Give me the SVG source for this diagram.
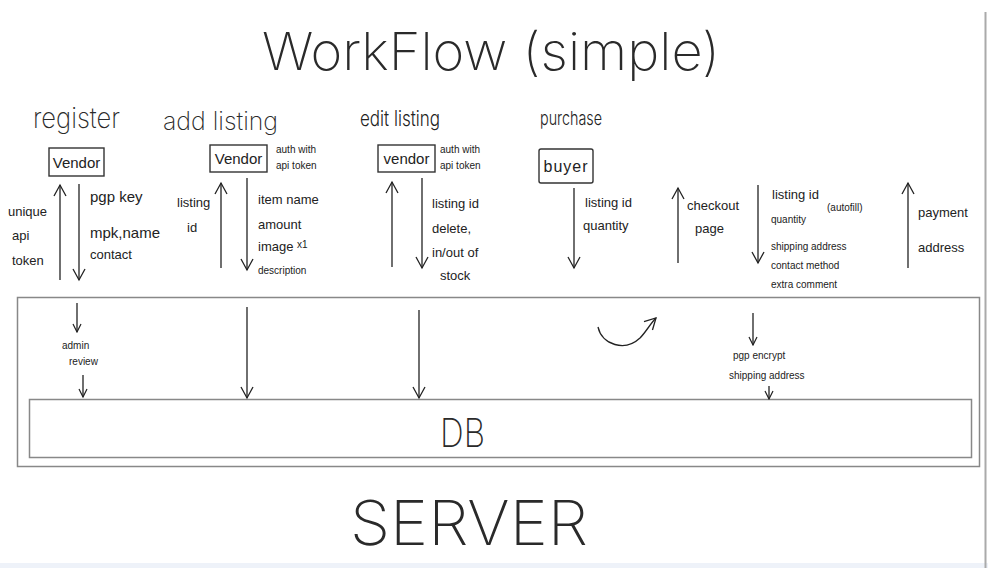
<svg xmlns="http://www.w3.org/2000/svg" width="988" height="568" viewBox="0 0 988 568">
<defs>
<style>
text{font-family:"Liberation Sans","DejaVu Sans",sans-serif;fill:#222;}
.t{font-family:Inter,"DejaVu Sans","Liberation Sans",sans-serif;font-weight:200;fill:#2a2a2a;}
.h{font-weight:300;fill:#222;}
.s{font-size:13px;}
.xs{font-size:10px;}
.m{font-size:15px;}
.box{fill:none;stroke:#333;stroke-width:1.4;}
.frame{fill:none;stroke:#888;stroke-width:1.5;}
.c{fill:none;stroke:#222;stroke-width:1.3;}
</style>
<marker id="ah" markerWidth="14" markerHeight="14" refX="12" refY="7" orient="auto" markerUnits="userSpaceOnUse">
<path d="M1,1 L12,7 L1,13" fill="none" stroke="#222" stroke-width="1.3"/>
</marker>
<marker id="ahs" markerWidth="10" markerHeight="10" refX="9" refY="5" orient="auto" markerUnits="userSpaceOnUse">
<path d="M1,1 L9,5 L1,9" fill="none" stroke="#222" stroke-width="1.2"/>
</marker>
</defs>
<rect width="988" height="568" fill="#ffffff"/>
<rect x="0" y="563" width="988" height="5" fill="#eef2f9"/>
<line x1="985.5" y1="12" x2="985.5" y2="568" stroke="#aaa" stroke-width="2"/>

<g id="title">
<text x="262" y="70" font-size="52" class="t" textLength="458" lengthAdjust="spacingAndGlyphs">WorkFlow (simple)</text>
</g>

<g id="server">
<rect x="17.5" y="297.5" width="962" height="169" class="frame"/>
<text x="350" y="545" font-size="62" class="t" textLength="238" lengthAdjust="spacingAndGlyphs">SERVER</text>
</g>
<g id="db">
<rect x="29.5" y="399.5" width="942" height="58" class="frame"/>
<text x="440" y="447" font-size="40" class="t" textLength="45" lengthAdjust="spacingAndGlyphs">DB</text>
</g>

<g id="register">
<text x="33" y="128" font-size="28" class="t" textLength="87" lengthAdjust="spacingAndGlyphs">register</text>
</g>
<g id="vendor-register">
<rect x="49" y="148" width="55" height="28" class="box"/>
<text x="76.5" y="168" font-size="15" text-anchor="middle">Vendor</text>
</g>
<g id="add-listing">
<text x="163" y="130" font-size="25" class="t" textLength="115" lengthAdjust="spacingAndGlyphs">add listing</text>
</g>
<g id="vendor-add">
<rect x="210" y="145" width="57" height="27" class="box"/>
<text x="238.5" y="164" font-size="15" text-anchor="middle">Vendor</text>
<text x="276" y="153" class="xs">auth with</text>
<text x="276" y="169" class="xs">api token</text>
</g>
<g id="edit-listing">
<text x="360" y="126" font-size="21" class="t h" textLength="80" lengthAdjust="spacingAndGlyphs">edit listing</text>
</g>
<g id="vendor-edit">
<rect x="378" y="145" width="57" height="27" class="box"/>
<text x="406.5" y="164" font-size="15" text-anchor="middle">vendor</text>
<text x="440" y="153" class="xs">auth with</text>
<text x="440" y="169" class="xs">api token</text>
</g>
<g id="purchase">
<text x="540" y="125" font-size="19" class="t h" textLength="62" lengthAdjust="spacingAndGlyphs">purchase</text>
</g>
<g id="buyer">
<rect x="539" y="149" width="54" height="34" rx="2" class="box"/>
<text x="566" y="172" font-size="16" text-anchor="middle" letter-spacing="1">buyer</text>
</g>

<g id="connectors">
<line x1="60" y1="280" x2="60" y2="185" class="c" marker-end="url(#ah)"/>
<line x1="79" y1="184" x2="79" y2="280" class="c" marker-end="url(#ah)"/>
<line x1="221" y1="268" x2="221" y2="183" class="c" marker-end="url(#ah)"/>
<line x1="247" y1="178" x2="247" y2="270" class="c" marker-end="url(#ah)"/>
<line x1="392" y1="267" x2="392" y2="182" class="c" marker-end="url(#ah)"/>
<line x1="422" y1="178" x2="422" y2="268" class="c" marker-end="url(#ah)"/>
<line x1="574" y1="188" x2="574" y2="268" class="c" marker-end="url(#ah)"/>
<line x1="678" y1="263" x2="678" y2="188" class="c" marker-end="url(#ah)"/>
<line x1="758" y1="185" x2="758" y2="263" class="c" marker-end="url(#ah)"/>
<line x1="908" y1="268" x2="908" y2="183" class="c" marker-end="url(#ah)"/>
<line x1="77" y1="303" x2="77" y2="332" class="c" marker-end="url(#ahs)"/>
<line x1="83" y1="375" x2="83" y2="397" class="c" marker-end="url(#ahs)"/>
<line x1="247" y1="307" x2="247" y2="398" class="c" marker-end="url(#ah)"/>
<line x1="419" y1="310" x2="419" y2="398" class="c" marker-end="url(#ah)"/>
<path d="M598,327 C602,345 625,352 640,338 C646,332 650,324 656,318" class="c" marker-end="url(#ah)"/>
<line x1="753" y1="313" x2="753" y2="345" class="c" marker-end="url(#ahs)"/>
<line x1="769" y1="386" x2="769" y2="399" class="c" marker-end="url(#ahs)"/>
</g>

<g id="labels">
<text x="8" y="216" class="s">unique</text>
<text x="12" y="240" class="s">api</text>
<text x="12" y="265" class="s">token</text>
<text x="90" y="202" class="m">pgp key</text>
<text x="90" y="238" class="m">mpk,name</text>
<text x="90" y="259" class="s">contact</text>

<text x="177" y="207" class="s">listing</text>
<text x="187" y="232" class="s">id</text>
<text x="258" y="204" class="s">item name</text>
<text x="258" y="229" class="s">amount</text>
<text x="258" y="251" class="s">image <tspan font-size="10" dy="-3">x1</tspan></text>
<text x="258" y="274" class="xs">description</text>

<text x="432" y="208" class="s">listing id</text>
<text x="432" y="233" class="s">delete,</text>
<text x="432" y="257" class="s">in/out of</text>
<text x="440" y="280" class="s">stock</text>

<text x="585" y="207" class="s">listing id</text>
<text x="583" y="230" class="s">quantity</text>

<text x="687" y="210" class="s">checkout</text>
<text x="695" y="233" class="s">page</text>

<text x="772" y="199" class="s">listing id</text>
<text x="827" y="211" class="xs">(autofill)</text>
<text x="771" y="223" class="xs">quantity</text>
<text x="771" y="250" class="xs">shipping address</text>
<text x="771" y="269" class="xs">contact method</text>
<text x="771" y="288" class="xs">extra comment</text>

<text x="918" y="217" class="s">payment</text>
<text x="918" y="252" class="s">address</text>

<text x="62" y="349" class="xs">admin</text>
<text x="69" y="365" class="xs">review</text>
<text x="733" y="359" class="xs">pgp encrypt</text>
<text x="729" y="379" class="xs">shipping address</text>
</g>
</svg>
